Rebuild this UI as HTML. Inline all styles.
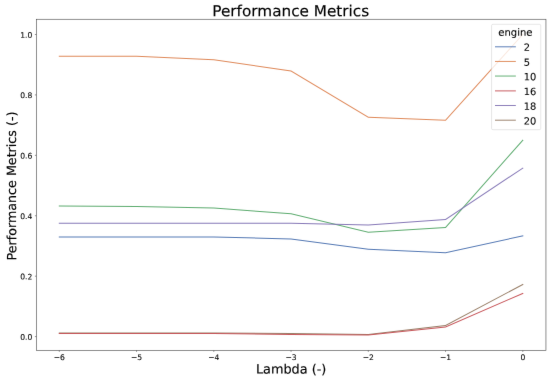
<!DOCTYPE html>
<html lang="en"><head><meta charset="utf-8"><title>Performance Metrics</title>
<style>html,body{margin:0;padding:0;background:#fff;overflow:hidden}svg{display:block}text{font-family:"DejaVu Sans","Liberation Sans",sans-serif;fill:#000;text-rendering:geometricPrecision}</style></head><body>
<svg width="550" height="379" viewBox="0 0 550 379">
<defs><filter id="soft" x="0" y="0" width="550" height="379" filterUnits="userSpaceOnUse" color-interpolation-filters="sRGB"><feConvolveMatrix order="3" kernelMatrix="0.00276 0.04704 0.00276 0.04704 0.80077 0.04704 0.00276 0.04704 0.00276" edgeMode="duplicate" preserveAlpha="false"/></filter></defs>
<g filter="url(#soft)">
<rect width="550" height="379" fill="#fff"/>
<g stroke="none" fill-opacity="0.95">
<polygon fill="#4c72b0" points="58.80,237.41 213.79,237.41 291.01,239.49 368.26,249.76 445.59,253.30 523.40,236.23 523.18,235.26 445.51,252.30 368.34,248.77 291.09,238.49 213.81,236.41 58.80,236.41"/>
<polygon fill="#dd8452" points="58.80,56.72 136.54,56.72 213.75,60.25 290.88,71.57 368.15,117.68 445.76,120.72 523.51,34.31 522.76,33.64 445.34,119.70 368.45,116.69 291.22,70.61 213.85,59.26 136.56,55.72 58.80,55.72"/>
<polygon fill="#55a868" points="58.80,206.44 136.54,207.05 213.78,208.50 290.97,214.20 368.26,232.79 445.79,228.00 523.51,140.13 522.76,139.47 445.31,227.03 368.34,231.78 291.13,213.21 213.82,207.50 136.56,206.05 58.80,205.44"/>
<polygon fill="#937860" points="58.80,333.51 213.80,333.51 291.04,333.90 368.33,335.11 445.70,326.00 523.48,284.64 523.01,283.75 445.40,325.03 368.27,334.11 291.06,332.90 213.80,332.51 58.80,332.51"/>
<polygon fill="#8172b3" points="58.80,223.84 291.04,223.84 368.31,225.60 445.72,220.00 523.49,168.23 522.94,167.40 445.38,219.02 368.29,224.60 291.06,222.84 58.80,222.84"/>
<polygon fill="#c44e52" points="58.80,333.96 213.80,333.96 291.04,334.90 368.32,335.59 445.68,327.48 523.46,293.66 523.06,292.74 445.42,326.51 368.28,334.59 291.06,333.90 213.80,332.96 58.80,332.96"/>
</g>
<rect x="36.30" y="19.25" width="509.65" height="331.20" fill="none" stroke="#444" stroke-width="0.6"/>
<g stroke="#444" stroke-width="0.6">
<line x1="59.30" y1="350.45" x2="59.30" y2="351.85"/>
<line x1="136.55" y1="350.45" x2="136.55" y2="351.85"/>
<line x1="213.80" y1="350.45" x2="213.80" y2="351.85"/>
<line x1="291.05" y1="350.45" x2="291.05" y2="351.85"/>
<line x1="368.30" y1="350.45" x2="368.30" y2="351.85"/>
<line x1="445.55" y1="350.45" x2="445.55" y2="351.85"/>
<line x1="522.80" y1="350.45" x2="522.80" y2="351.85"/>
<line x1="34.90" y1="336.60" x2="36.30" y2="336.60"/>
<line x1="34.90" y1="276.18" x2="36.30" y2="276.18"/>
<line x1="34.90" y1="215.76" x2="36.30" y2="215.76"/>
<line x1="34.90" y1="155.34" x2="36.30" y2="155.34"/>
<line x1="34.90" y1="94.92" x2="36.30" y2="94.92"/>
<line x1="34.90" y1="34.50" x2="36.30" y2="34.50"/>
</g>
<g font-size="7.60" fill="#222" stroke="#222" stroke-width="0.12">
<text transform="translate(59.30,360.10) rotate(0.05)" text-anchor="middle">−6</text>
<text transform="translate(136.55,360.10) rotate(0.05)" text-anchor="middle">−5</text>
<text transform="translate(213.80,360.10) rotate(0.05)" text-anchor="middle">−4</text>
<text transform="translate(291.05,360.10) rotate(0.05)" text-anchor="middle">−3</text>
<text transform="translate(368.30,360.10) rotate(0.05)" text-anchor="middle">−2</text>
<text transform="translate(445.55,360.10) rotate(0.05)" text-anchor="middle">−1</text>
<text transform="translate(522.80,360.10) rotate(0.05)" text-anchor="middle">0</text>
<text transform="translate(32.30,339.80) rotate(0.05)" text-anchor="end">0.0</text>
<text transform="translate(32.30,279.38) rotate(0.05)" text-anchor="end">0.2</text>
<text transform="translate(32.30,218.96) rotate(0.05)" text-anchor="end">0.4</text>
<text transform="translate(32.30,158.54) rotate(0.05)" text-anchor="end">0.6</text>
<text transform="translate(32.30,98.12) rotate(0.05)" text-anchor="end">0.8</text>
<text transform="translate(32.30,37.70) rotate(0.05)" text-anchor="end">1.0</text>
</g>
<text transform="translate(290.70,16.30) rotate(0.03)" text-anchor="middle" font-size="15.25" stroke="#000" stroke-width="0.15">Performance Metrics</text>
<text transform="translate(291.12,373.40) rotate(0.03)" text-anchor="middle" font-size="12.85" stroke="#000" stroke-width="0.15">Lambda (-)</text>
<text transform="translate(16.10,186.05) rotate(-90.03)" text-anchor="middle" font-size="12.7" stroke="#000" stroke-width="0.15">Performance Metrics (-)</text>
<rect x="491.55" y="24.30" width="49.20" height="105.40" rx="1.4" ry="1.4" fill="#fff" fill-opacity="0.8" stroke="#ccc" stroke-opacity="0.8" stroke-width="0.6"/>
<text transform="translate(515.40,35.80) rotate(0.03)" text-anchor="middle" font-size="10" stroke="#000" stroke-width="0.1">engine</text>
<line x1="495" y1="46.80" x2="515.85" y2="46.80" stroke="#4c72b0" stroke-width="1.00" stroke-opacity="0.9"/>
<text transform="translate(523.8,50.85) rotate(0.03)" font-size="9.9" stroke="#000" stroke-width="0.1">2</text>
<line x1="495" y1="61.44" x2="515.85" y2="61.44" stroke="#dd8452" stroke-width="1.00" stroke-opacity="0.9"/>
<text transform="translate(523.8,65.65) rotate(0.03)" font-size="9.9" stroke="#000" stroke-width="0.1">5</text>
<line x1="495" y1="76.06" x2="515.85" y2="76.06" stroke="#55a868" stroke-width="1.00" stroke-opacity="0.9"/>
<text transform="translate(523.8,80.35) rotate(0.03)" font-size="9.9" stroke="#000" stroke-width="0.1">10</text>
<line x1="495" y1="90.90" x2="515.85" y2="90.90" stroke="#c44e52" stroke-width="1.00" stroke-opacity="0.9"/>
<text transform="translate(523.8,95.10) rotate(0.03)" font-size="9.9" stroke="#000" stroke-width="0.1">16</text>
<line x1="495" y1="105.50" x2="515.85" y2="105.50" stroke="#8172b3" stroke-width="1.00" stroke-opacity="0.9"/>
<text transform="translate(523.8,109.80) rotate(0.03)" font-size="9.9" stroke="#000" stroke-width="0.1">18</text>
<line x1="495" y1="120.20" x2="515.85" y2="120.20" stroke="#937860" stroke-width="1.00" stroke-opacity="0.9"/>
<text transform="translate(523.8,124.50) rotate(0.03)" font-size="9.9" stroke="#000" stroke-width="0.1">20</text>
</g></svg></body></html>
